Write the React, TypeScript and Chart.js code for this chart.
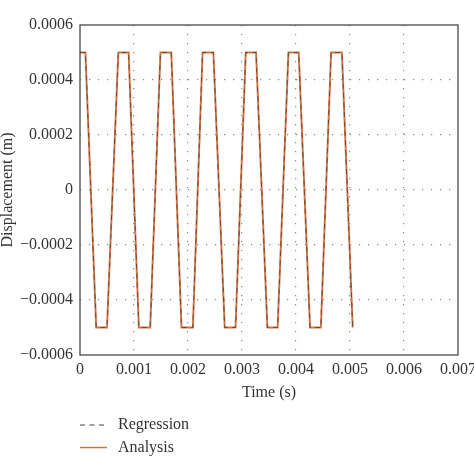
import React, { useEffect, useRef } from "react";
import { Chart, registerables } from "chart.js";

Chart.register(...registerables);

// Data (time in s, displacement in m)
const timeValues = [
  0, 0.0001, 0.0003, 0.0005, 0.00071, 0.0009, 0.00109, 0.0013, 0.00149, 0.00169,
  0.00188, 0.00209, 0.00227, 0.00247, 0.00268, 0.00288, 0.00307, 0.00326,
  0.00347, 0.00366, 0.00386, 0.00405, 0.00426, 0.00446, 0.00465, 0.00485, 0.00505,
];
const analysisValues = [
  0.0005, 0.0005, -0.0005, -0.0005, 0.0005, 0.0005, -0.0005, -0.0005, 0.0005, 0.0005,
  -0.0005, -0.0005, 0.0005, 0.0005, -0.0005, -0.0005, 0.0005, 0.0005,
  -0.0005, -0.0005, 0.0005, 0.0005, -0.0005, -0.0005, 0.0005, 0.0005, -0.0005,
];
const regressionValues = [
  0.0005, 0.0005, -0.0005, -0.0005, 0.0005, 0.0005, -0.0005, -0.0005, 0.0005, 0.0005,
  -0.0005, -0.0005, 0.0005, 0.0005, -0.0005, -0.0005, 0.0005, 0.0005,
  -0.0005, -0.0005, 0.0005, 0.0005, -0.0005, -0.0005, 0.0005, 0.0005, -0.0005,
];
const xTickValues = [0, 0.001, 0.002, 0.003, 0.004, 0.005, 0.006, 0.007];
const xTickLabels = ["0", "0.001", "0.002", "0.003", "0.004", "0.005", "0.006", "0.007"];
const yTickValues = [-0.0006, -0.0004, -0.0002, 0, 0.0002, 0.0004, 0.0006];
const yTickLabels = ["\u22120.0006", "\u22120.0004", "\u22120.0002", "0", "0.0002", "0.0004", "0.0006"];
const seriesNames = ["Regression", "Analysis"];

const FONT = "'Liberation Serif', 'DejaVu Serif', serif";
const TEXT = "#333333";
const ORANGE = "#d2703f";
const DASHED = "#444444";

function labelFor(values: number[], labels: string[], v: number) {
  let best = 0;
  for (let i = 1; i < values.length; i++) {
    if (Math.abs(values[i] - v) < Math.abs(values[best] - v)) best = i;
  }
  return Math.abs(values[best] - v) < 1e-9 ? labels[best] : "";
}

const framePlugin = {
  id: "frameAndExtras",
  afterDraw(chart: any) {
    const { ctx, chartArea } = chart;
    const { left, top, right, bottom } = chartArea;
    ctx.save();
    ctx.strokeStyle = "#555555";
    ctx.lineWidth = 1.4;
    ctx.setLineDash([]);
    ctx.strokeRect(left, top, right - left, bottom - top);
    ctx.fillStyle = TEXT;
    ctx.font = `16px ${FONT}`;
    ctx.translate(12, (top + bottom) / 2);
    ctx.rotate(-Math.PI / 2);
    ctx.textAlign = "center";
    ctx.textBaseline = "alphabetic";
    ctx.fillText("Displacement (m)", 0, 0);
    ctx.restore();

    ctx.save();
    ctx.font = `16px ${FONT}`;
    ctx.fillStyle = TEXT;
    ctx.textAlign = "left";
    ctx.textBaseline = "middle";
    const lx0 = 80;
    const lx1 = 107;
    const tx = 118;
    const y1 = 425;
    const y2 = 447.5;
    ctx.strokeStyle = DASHED;
    ctx.lineWidth = 1.2;
    ctx.setLineDash([5, 4.5]);
    ctx.beginPath();
    ctx.moveTo(lx0, y1);
    ctx.lineTo(lx1, y1);
    ctx.stroke();
    ctx.setLineDash([]);
    ctx.strokeStyle = ORANGE;
    ctx.lineWidth = 1.5;
    ctx.beginPath();
    ctx.moveTo(lx0, y2);
    ctx.lineTo(lx1, y2);
    ctx.stroke();
    ctx.fillText(seriesNames[0], tx, y1);
    ctx.fillText(seriesNames[1], tx, y2);
    ctx.restore();
  },
};

export default function App() {
  const ref = useRef<HTMLCanvasElement | null>(null);

  useEffect(() => {
    if (!ref.current) return;
    const regression = timeValues.map((t, i) => ({ x: t, y: regressionValues[i] }));
    const analysis = timeValues.map((t, i) => ({ x: t, y: analysisValues[i] }));
    const chart = new Chart(ref.current, {
      type: "line",
      data: {
        datasets: [
          {
            label: seriesNames[0],
            data: regression,
            borderColor: DASHED,
            borderDash: [5, 4.5],
            borderWidth: 0.8,
            pointRadius: 0,
            tension: 0,
            fill: false,
          },
          {
            label: seriesNames[1],
            data: analysis,
            borderColor: ORANGE,
            borderWidth: 1.9,
            pointRadius: 0,
            tension: 0,
            fill: false,
          },
        ],
      },
      options: {
        animation: false,
        responsive: false,
        devicePixelRatio: 1,
        layout: { padding: { left: 0, top: 25, right: 16, bottom: 72 } },
        plugins: {
          legend: { display: false },
          tooltip: { enabled: false },
        },
        scales: {
          x: {
            type: "linear",
            min: 0,
            max: 0.007,
            afterBuildTicks: (s: any) => {
              s.ticks = xTickValues.map((v) => ({ value: v }));
            },
            afterFit: (s: any) => {
              s.height = 47;
              s.paddingLeft = 0;
              s.paddingRight = 0;
            },
            ticks: {
              padding: 5,
              color: TEXT,
              font: { family: FONT, size: 16 },
              maxRotation: 0,
              autoSkip: false,
              callback: (v: any) => labelFor(xTickValues, xTickLabels, Number(v)),
            },
            grid: {
              drawTicks: false,
              color: (c: any) =>
                c.tick && (c.tick.value <= 0 || c.tick.value >= 0.007) ? "rgba(0,0,0,0)" : "#8a8a8a",
              lineWidth: 1.2,
            },
            border: { display: false, dash: [1.2, 7.8] },
            title: {
              display: true,
              text: "Time (s)",
              color: TEXT,
              font: { family: FONT, size: 16 },
              padding: { top: 0, bottom: 0 },
            },
          },
          y: {
            type: "linear",
            min: -0.0006,
            max: 0.0006,
            afterBuildTicks: (s: any) => {
              s.ticks = yTickValues.map((v) => ({ value: v }));
            },
            afterFit: (s: any) => {
              s.width = 80;
            },
            ticks: {
              padding: 7,
              color: TEXT,
              font: { family: FONT, size: 16 },
              autoSkip: false,
              callback: (v: any) => labelFor(yTickValues, yTickLabels, Number(v)),
            },
            grid: {
              drawTicks: false,
              color: (c: any) =>
                c.tick && (c.tick.value <= -0.0006 || c.tick.value >= 0.0006) ? "rgba(0,0,0,0)" : "#8a8a8a",
              lineWidth: 1.2,
            },
            border: { display: false, dash: [1.2, 7.8] },
          },
        },
      },
      plugins: [framePlugin],
    });
    return () => chart.destroy();
  }, []);

  return (
    <div style={{ position: "absolute", left: 0, top: 0, width: 474, height: 474, background: "#ffffff" }}>
      <canvas ref={ref} width={474} height={474} style={{ width: 474, height: 474, display: "block" }} />
    </div>
  );
}
